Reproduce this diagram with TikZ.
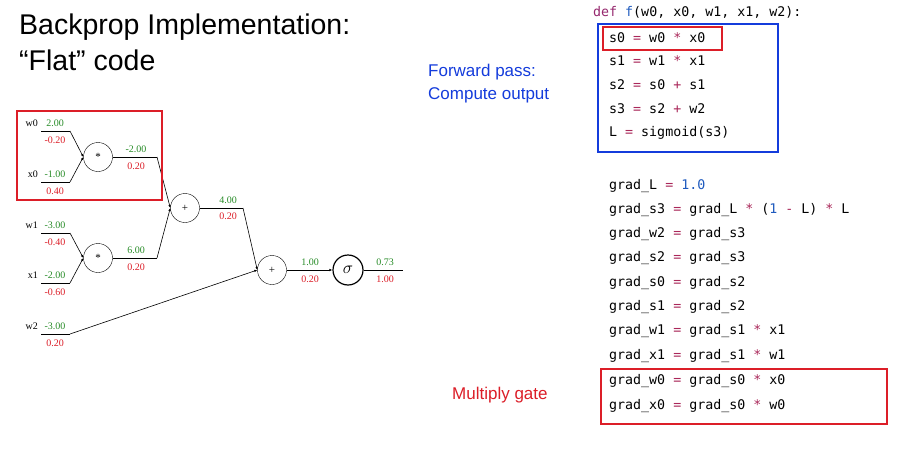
\documentclass[tikz,border=0pt]{standalone}
\usepackage{fontspec}
\setmainfont{Liberation Sans}
\setmonofont{DejaVu Sans Mono}
\newfontfamily\gser{Liberation Serif}
\usetikzlibrary{arrows.meta}
\definecolor{gg}{RGB}{40,140,40}
\definecolor{rr}{RGB}{220,30,40}
\definecolor{op}{RGB}{170,40,90}
\definecolor{kw}{RGB}{150,40,110}
\definecolor{bl}{RGB}{20,60,220}
\definecolor{num}{RGB}{30,90,190}
\begin{document}
\begin{tikzpicture}[x=1pt,y=-1pt,
 gate/.style={circle,draw,minimum size=29pt,inner sep=0pt,font=\gser\fontsize{11}{11}\selectfont},
 val/.style={font=\gser\fontsize{10}{10}\selectfont,text=gg,inner sep=0pt},
 grd/.style={font=\gser\fontsize{10}{10}\selectfont,text=rr,inner sep=0pt},
 lab/.style={font=\gser\fontsize{10}{10}\selectfont,inner sep=0pt},
 wire/.style={draw,line width=0.6pt,-{Latex[length=3pt,width=2.5pt]}},
 code/.style={anchor=west,inner sep=0pt,font=\ttfamily\fontsize{13.3}{13.3}\selectfont},
 redbox/.style={draw=rr,line width=1.3pt},
 bluebox/.style={draw=bl,line width=1.3pt}]
\useasboundingbox (0,0) rectangle (905,450);
\fill[white] (0,0) rectangle (905,450);
\node[anchor=west,inner sep=0pt,font=\fontsize{28.5}{28.5}\selectfont] (t1) at (19,27) {Backprop Implementation:};
\node[anchor=west,inner sep=0pt,font=\fontsize{28.5}{28.5}\selectfont] (t2) at (19,60) {“Flat” code};
% graph
\node[gate] (m1) at (98,157) {*};
\node[gate] (m2) at (98,258) {*};
\node[gate] (p1) at (185,208) {+};
\node[gate] (p2) at (272,270) {+};
\node[gate,minimum size=30pt,line width=1.2pt,font=\gser\fontsize{18}{18}\selectfont\itshape] (sg) at (348,270) {$\sigma$};
\foreach \n/\y/\v/\g in {w0/131/2.00/-0.20, x0/182/-1.00/0.40, w1/233/-3.00/-0.40, x1/283/-2.00/-0.60, w2/334/-3.00/0.20}{
 \coordinate (\n s) at (41,\y); \coordinate (\n e) at (70,\y);
 \draw[line width=0.6pt] (\n s) -- (\n e);
 \node[lab,anchor=east] (\n l) at (38,\y-8) {\n};
 \node[val] (\n v) at (55,\y-8) {\v};
 \node[grd] (\n g) at (55,\y+9) {\g};
}
\draw[wire] (w0e) -- (m1.west);
\draw[wire] (x0e) -- (m1.west);
\draw[wire] (w1e) -- (m2.west);
\draw[wire] (x1e) -- (m2.west);
\coordinate (k1) at (157,157); \coordinate (k2) at (157,258);
\coordinate (k3) at (243,208); \coordinate (k4) at (403,270);
\draw[line width=0.6pt] (m1.east) -- (k1);
\draw[wire] (k1) -- (p1.west);
\draw[line width=0.6pt] (m2.east) -- (k2);
\draw[wire] (k2) -- (p1.west);
\draw[line width=0.6pt] (p1.east) -- (k3);
\draw[wire] (k3) -- (p2.west);
\draw[wire] (w2e) -- (p2.west);
\draw[wire] (p2.east) -- (sg.west);
\draw[line width=0.6pt] (sg.east) -- (k4);
\node[val] (v1) at (136,149) {-2.00}; \node[grd] (g1) at (136,166) {0.20};
\node[val] (v2) at (136,250) {6.00}; \node[grd] (g2) at (136,267) {0.20};
\node[val] (v3) at (228,200) {4.00}; \node[grd] (g3) at (228,216) {0.20};
\node[val] (v4) at (310,262) {1.00}; \node[grd] (g4) at (310,279) {0.20};
\node[val] (v5) at (385,262) {0.73}; \node[grd] (g5) at (385,279) {1.00};
\draw[redbox] (17,111) rectangle (162,200);
% text right
\node[anchor=west,inner sep=0pt,text=bl,font=\fontsize{17}{17}\selectfont] (fp1) at (428,72) {Forward pass:};
\node[anchor=west,inner sep=0pt,text=bl,font=\fontsize{17}{17}\selectfont] (fp2) at (428,95) {Compute output};
\node[anchor=west,inner sep=0pt,text=rr,font=\fontsize{17}{17}\selectfont] (mg) at (452,395) {Multiply gate};
\newcommand{\oq}{\textcolor{op}{=}}
\newcommand{\om}{\textcolor{op}{*}}
\newcommand{\op}{\textcolor{op}{+}}
\newcommand{\on}{\textcolor{op}{-}}
\node[code] (c0) at (593,12) {\textcolor{kw}{def} \textcolor{num}{f}(w0, x0, w1, x1, w2):};
\node[code] (c1) at (609,38) {s0 \oq{} w0 \om{} x0};
\node[code] (c2) at (609,61) {s1 \oq{} w1 \om{} x1};
\node[code] (c3) at (609,85) {s2 \oq{} s0 \op{} s1};
\node[code] (c4) at (609,109) {s3 \oq{} s2 \op{} w2};
\node[code] (c5) at (609,133) {L \oq{} sigmoid(s3)};
\draw[bluebox] (598,24) rectangle (778,152);
\draw[redbox] (603,27) rectangle (722,50);
\node[code] (d0) at (609,186) {grad\_L \oq{} \textcolor{num}{1.0}};
\node[code] (d1) at (609,210) {grad\_s3 \oq{} grad\_L \om{} (\textcolor{num}{1} \on{} L) \om{} L};
\node[code] (d2) at (609,234) {grad\_w2 \oq{} grad\_s3};
\node[code] (d3) at (609,258) {grad\_s2 \oq{} grad\_s3};
\node[code] (d4) at (609,283) {grad\_s0 \oq{} grad\_s2};
\node[code] (d5) at (609,307) {grad\_s1 \oq{} grad\_s2};
\node[code] (d6) at (609,331) {grad\_w1 \oq{} grad\_s1 \om{} x1};
\node[code] (d7) at (609,356) {grad\_x1 \oq{} grad\_s1 \om{} w1};
\node[code] (d8) at (609,381) {grad\_w0 \oq{} grad\_s0 \om{} x0};
\node[code] (d9) at (609,406) {grad\_x0 \oq{} grad\_s0 \om{} w0};
\draw[redbox] (601,369) rectangle (887,424);
\end{tikzpicture}
\end{document}
